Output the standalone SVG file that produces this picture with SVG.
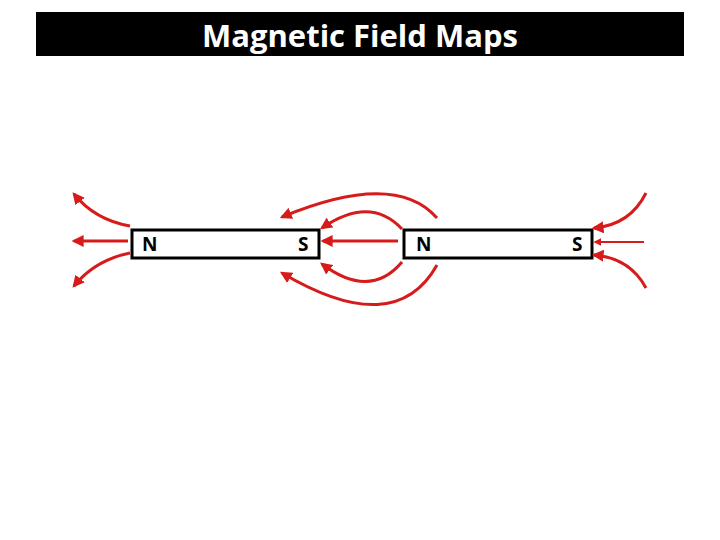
<svg xmlns="http://www.w3.org/2000/svg" width="720" height="540" viewBox="0 0 720 540">
<style>
.m{fill:#fff;stroke:#000;stroke-width:3}
.t{font-family:"Open Sans","Liberation Sans",sans-serif;font-weight:bold;font-size:19px;fill:#000}
.f{fill:none;stroke:#d71a1a;stroke-width:3}
</style>
<defs><marker id="a" viewBox="0 0 10 10" refX="8" refY="5" markerWidth="4" markerHeight="4" orient="auto"><path d="M0,0L10,5L0,10z" fill="#d71a1a"/></marker></defs>
<rect width="720" height="540" fill="#fff"/>
<g id="title"><rect x="36" y="12" width="648" height="44" fill="#000"/>
<text x="360" y="47" text-anchor="middle" font-family="Open Sans,Liberation Sans,sans-serif" font-weight="bold" font-size="31" fill="#fff">Magnetic Field Maps</text></g>
<g id="magnet1"><rect class="m" x="132" y="230" width="187" height="28"/><text class="t" x="142" y="251">N</text><text class="t" x="298" y="251">S</text></g>
<g id="magnet2"><rect class="m" x="404" y="230" width="188" height="28"/><text class="t" x="416" y="251">N</text><text class="t" x="572" y="251">S</text></g>
<g id="connectors" class="f" marker-end="url(#a)">
<path class="f" d="M130,226 Q95,220 74,194"/>
<path class="f" d="M128,241 L74,241"/>
<path class="f" d="M130,253 Q95,260 74,286"/>
<path class="f" d="M437,218 Q395,170 282,217"/>
<path class="f" d="M402,229 Q370,195 322,228"/>
<path class="f" d="M398,241 L323,241"/>
<path class="f" d="M402,262 Q370,300 322,264"/>
<path class="f" d="M437,265 Q395,340 282,273"/>
<path class="f" d="M646,193 Q630,225 594,228"/>
<path class="f" style="stroke-width:2" d="M644,242 L595,242"/>
<path class="f" d="M646,288 Q630,258 594,255"/>
</g>
</svg>
